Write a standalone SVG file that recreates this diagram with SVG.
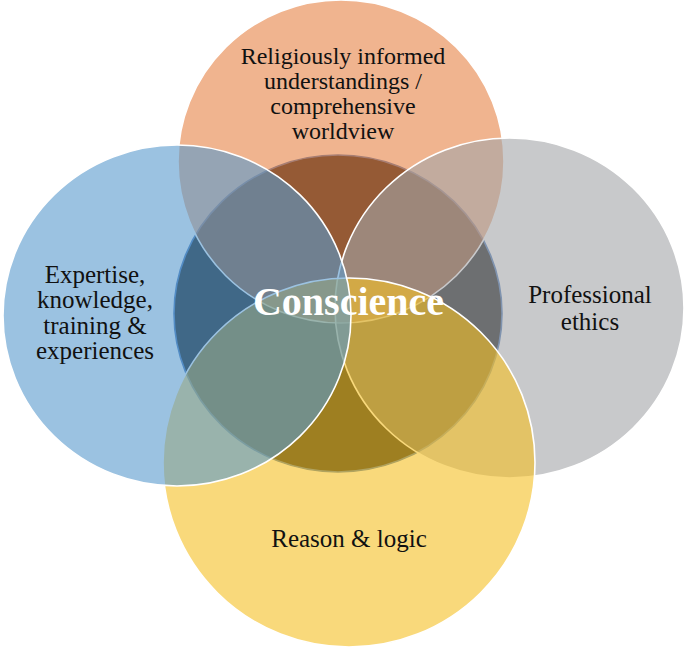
<svg xmlns="http://www.w3.org/2000/svg" width="685" height="649" viewBox="0 0 685 649">
  <style>
    .circle { stroke: #ffffff; stroke-width: 1.6; fill-opacity: 0.6; }
    .label { font-family: "Liberation Serif", "DejaVu Serif", serif; font-size: 24px; fill: #111111; text-anchor: middle; }
    .label-lg { font-size: 25px; }
    .core { font-family: "Liberation Serif", "DejaVu Serif", serif; font-size: 40px; font-weight: bold; fill: #ffffff; text-anchor: middle; }
  </style>
  <rect width="685" height="649" fill="#ffffff"/>
  <g id="node-conscience">
    <ellipse cx="338" cy="313.5" rx="164" ry="158.5" fill="#1c1e20" stroke="#4a78b8" stroke-width="1.6"/>
  </g>
  <g id="node-religious">
    <ellipse class="circle" cx="341" cy="161.5" rx="163" ry="161.5" fill="#e68244"/>
    <text class="label" x="343" y="64">Religiously informed</text>
    <text class="label" x="343" y="89">understandings /</text>
    <text class="label" x="343" y="114">comprehensive</text>
    <text class="label" x="343" y="139">worldview</text>
  </g>
  <g id="node-professional">
    <ellipse class="circle" cx="509.5" cy="308" rx="174.5" ry="170" fill="#a3a5a8"/>
    <text class="label label-lg" x="590" y="303">Professional</text>
    <text class="label label-lg" x="590" y="330">ethics</text>
  </g>
  <g id="node-reason">
    <ellipse class="circle" cx="349" cy="462.5" rx="186" ry="184.5" fill="#f5c023"/>
    <text class="label label-lg" x="349" y="547">Reason &amp; logic</text>
  </g>
  <g id="node-expertise">
    <ellipse class="circle" cx="177" cy="315.5" rx="174" ry="170.5" fill="#5899cd"/>
    <text class="label label-lg" x="95" y="283">Expertise,</text>
    <text class="label label-lg" x="95" y="308">knowledge,</text>
    <text class="label label-lg" x="95" y="334">training &amp;</text>
    <text class="label label-lg" x="95" y="359">experiences</text>
  </g>
  <g id="connectors"/>
  <g id="label-conscience">
    <text class="core" x="348.5" y="315">Conscience</text>
  </g>
</svg>
